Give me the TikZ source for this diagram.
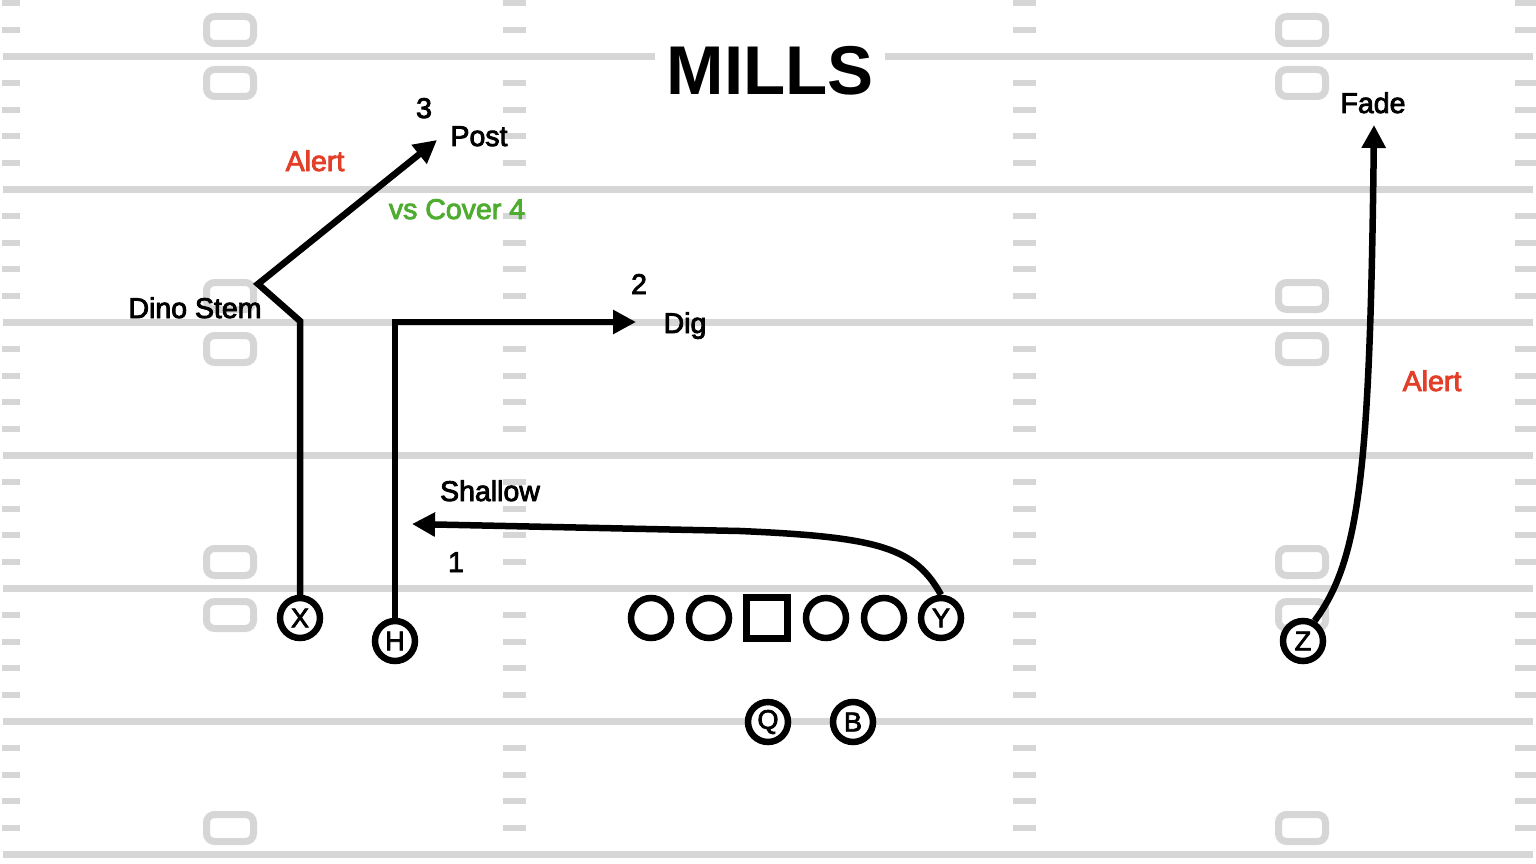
\documentclass[tikz,border=0pt]{standalone}
\usepackage{fontspec}
\setmainfont{Liberation Sans}
\newfontfamily\mittel[FakeBold=3]{Liberation Sans}
\usepackage{xcolor}
\usetikzlibrary{arrows.meta}

\definecolor{feldgrau}{RGB}{214,214,214}
\definecolor{alertrot}{RGB}{226,62,40}
\definecolor{covergruen}{RGB}{78,172,48}

\tikzset{
  spieler/.style={circle,draw,fill=white,line width=6.5pt,minimum size=40pt,inner sep=0pt,font=\mittel\fontsize{27}{27}\selectfont},
  center/.style={rectangle,draw,fill=white,line width=7pt,minimum size=41pt,inner sep=0pt},
  route/.style={line width=6.5pt},
  pfeil/.style={route,-{Triangle[length=23pt,width=23pt]}},
  label/.style={anchor=base,inner sep=0pt,font=\mittel\fontsize{28.5}{28.5}\selectfont},
  zahlbox/.style={draw=feldgrau,line width=7pt,rounded corners=8pt}
}

\begin{document}
\begin{tikzpicture}[x=1pt,y=-1pt]
  \useasboundingbox (0,0) rectangle (1536,864);

  % Spielfeld
  \foreach \y in {56.5,189.5,322.5,455.5,588.5,721.5,854.5} {
    \draw[feldgrau,line width=7pt] (3,\y) -- (1533,\y);
    \foreach \k in {-4,-3,-2,-1,1,2,3,4} {
      \foreach \xa/\xb in {2/20,503/526,1013/1036,1515/1536} {
        \draw[feldgrau,line width=6pt] (\xa,\y+26.6*\k) -- (\xb,\y+26.6*\k);
      }
    }
  }
  \foreach \y in {56.5,322.5,588.5} {
    \foreach \x in {230,1302} {
      \draw[zahlbox] (\x-23.5,\y-40) rectangle (\x+23.5,\y-13);
      \draw[zahlbox] (\x-23.5,\y+13) rectangle (\x+23.5,\y+40);
    }
  }
  \draw[zahlbox] (206.5,814.5) rectangle (253.5,841.5);
  \draw[zahlbox] (1278.5,814.5) rectangle (1325.5,841.5);

  % Titel
  \node[fill=white,inner xsep=12pt,inner ysep=4pt,anchor=base,font=\fontsize{69}{69}\selectfont\bfseries] (titel) at (770,95) {MILLS};

  % Spieler
  \node[spieler] (X) at (300,618) {X};
  \node[spieler] (H) at (395,641) {H};
  \node[spieler] (lt) at (651,618) {};
  \node[spieler] (lg) at (709,618) {};
  \node[center] (C) at (767,618) {};
  \node[spieler] (rg) at (826,618) {};
  \node[spieler] (rt) at (884,618) {};
  \node[spieler] (Y) at (941,618) {Y};
  \node[spieler] (Q) at (768,722) {Q};
  \node[spieler] (B) at (853,722) {B};
  \node[spieler] (Z) at (1303,641) {Z};

  % Routen
  \coordinate (xHoch) at (300,321);
  \coordinate (dino) at (258,284);
  \coordinate (postTip) at (437,140);
  \coordinate (hHoch) at (395,322);
  \coordinate (digTip) at (636,322);
  \coordinate (shallowTip) at (412,524);
  \coordinate (fadeTip) at (1374,125);

  \draw[pfeil] (X) -- (xHoch) -- (dino) -- (postTip);
  \draw[pfeil] (H) -- (hHoch) -- (digTip);
  \draw[pfeil] (Y.north) .. controls (915,548) and (880,537) .. (740,531) -- (shallowTip);
  \draw[pfeil] (Z.60) .. controls (1360,560) and (1370,470) .. (fadeTip);

  % Beschriftungen
  \node[label] (n3) at (424,118) {3};
  \node[label] (post) at (479,146) {Post};
  \node[label,text=alertrot] (alertX) at (315,171) {Alert};
  \node[label,text=covergruen] (cover) at (457,219) {vs Cover 4};
  \node[label] (dinoStem) at (195,318) {Dino Stem};
  \node[label] (n2) at (639,294) {2};
  \node[label] (dig) at (685,333) {Dig};
  \node[label] (shallow) at (490,501) {Shallow};
  \node[label] (n1) at (456,572) {1};
  \node[label] (fade) at (1373,113) {Fade};
  \node[label,text=alertrot] (alertZ) at (1432,391) {Alert};

\end{tikzpicture}
\end{document}
